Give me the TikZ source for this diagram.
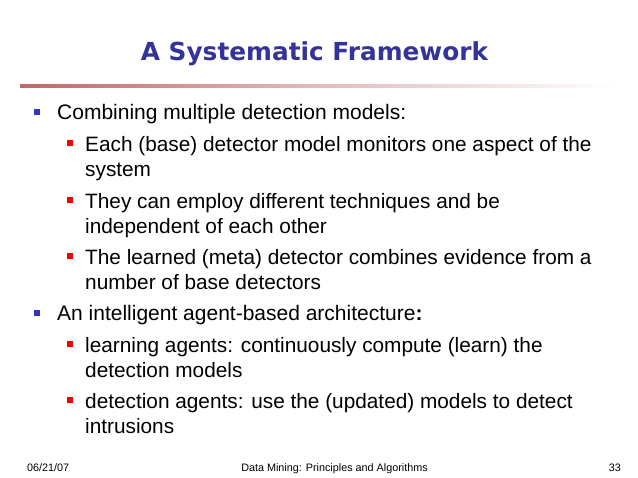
\documentclass[tikz,border=0pt]{standalone}
\usepackage{fontspec}
\setmainfont{Liberation Sans}
\newfontfamily\titlefont{DejaVu Sans}
\usepackage{xcolor}
\definecolor{titleblue}{HTML}{333399}
\definecolor{bulletblue}{HTML}{3333CC}
\definecolor{bulletred}{HTML}{FF0000}
\definecolor{rulerose}{HTML}{C06868}

\begin{document}
\begin{tikzpicture}[x=1pt, y=-1pt, every node/.style={inner sep=0pt, anchor=base west},
    lvlone/.style={font=\fontsize{21}{25}\selectfont},
    lvltwo/.style={font=\fontsize{20.8}{25}\selectfont},
    bulone/.style={fill=bulletblue, minimum size=6.5pt, anchor=center},
    bultwo/.style={fill=bulletred, minimum size=6.5pt, anchor=center},
    footer/.style={font=\fontsize{10.8}{12}\selectfont}]
    \useasboundingbox[fill=white] (0,0) rectangle (638,478);
    % title and rule
    \node[anchor=base, text=titleblue, font=\titlefont\bfseries\fontsize{24.8}{30}\selectfont] (title) at (314.5,61) {A Systematic Framework};
    \shade[left color=rulerose, right color=white, middle color=rulerose!45] (20,84.5) rectangle (617,87.5);
    % first group
    \node[bulone] (b1) at (37,112) {};
    \node[lvlone] (t1) at (57,120) {Combining multiple detection models:};
    \node[bultwo] (b11) at (70,143) {};
    \node[lvltwo] (t11a) at (85,152) {Each (base) detector model monitors one aspect of the};
    \node[lvltwo] (t11b) at (85,177) {system};
    \node[bultwo] (b12) at (70,200) {};
    \node[lvltwo] (t12a) at (85,209) {They can employ different techniques and be};
    \node[lvltwo] (t12b) at (85,234) {independent of each other};
    \node[bultwo] (b13) at (70,256) {};
    \node[lvltwo] (t13a) at (85,265) {The learned (meta) detector combines evidence from a};
    \node[lvltwo] (t13b) at (85,290) {number of base detectors};
    % second group
    \node[bulone] (b2) at (37,313) {};
    \node[lvlone] (t2) at (57,321) {An intelligent agent-based architecture\textbf{:}};
    \node[bultwo] (b21) at (70,344) {};
    \node[lvltwo] (t21a) at (85,353) {learning agents: continuously compute (learn) the};
    \node[lvltwo] (t21b) at (85,378) {detection models};
    \node[bultwo] (b22) at (70,400) {};
    \node[lvltwo] (t22a) at (85,409) {detection agents: use the (updated) models to detect};
    \node[lvltwo] (t22b) at (85,434) {intrusions};
    % footer
    \node[footer] (date) at (27,472) {06/21/07};
    \node[footer, anchor=base] (course) at (334.5,472) {Data Mining: Principles and Algorithms};
    \node[footer, anchor=base east] (page) at (621,472) {33};
\end{tikzpicture}
\end{document}
